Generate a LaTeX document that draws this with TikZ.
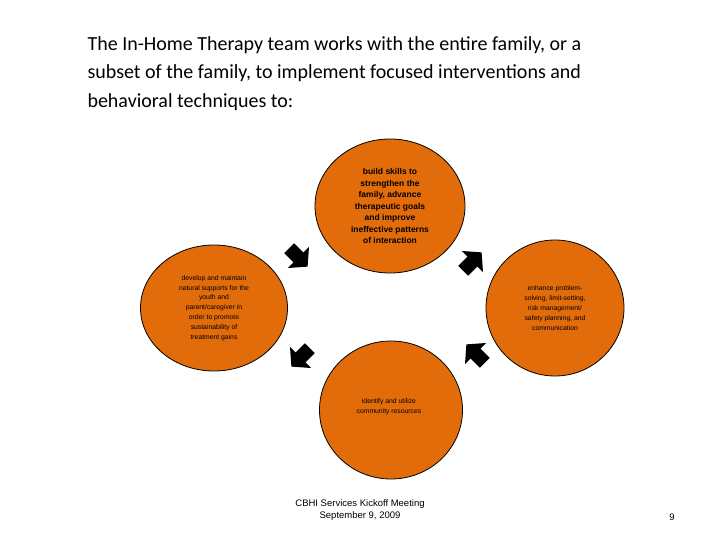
\documentclass[tikz,border=0pt]{standalone}
\usepackage{fontspec}
\setmainfont{Carlito}
\newfontfamily\arialf{Liberation Sans}
\usetikzlibrary{shapes.geometric}
\begin{document}
\begin{tikzpicture}[x=1pt,y=-1pt,
  blob/.style={ellipse,draw=black,line width=0.8pt,fill={rgb,255:red,226;green,108;blue,10},align=center,inner sep=0pt},
  bigtxt/.style={font=\arialf\fontsize{8.5}{11.5}\selectfont\bfseries},
  smtxt/.style={font=\arialf\fontsize{6.8}{9.8}\selectfont},
  barrow/.style={fill=black}]
\useasboundingbox (0,0) rectangle (720,540);
\node[anchor=north west,align=left,font=\fontsize{20}{28.5}\selectfont] (title) at (84,33)
 {The In-Home Therapy team works with the entire family, or a\\subset of the family, to implement focused interventions and\\behavioral techniques to:};
\node[blob,bigtxt,minimum width=150,minimum height=134] (top) at (390,206)
 {build skills to\\strengthen the\\family, advance\\therapeutic goals\\and improve\\ineffective patterns\\of interaction};
\node[blob,smtxt,minimum width=147,minimum height=126] (left) at (214,308)
 {develop and maintain\\natural supports for the\\youth and\\parent/caregiver in\\order to promote\\sustainability of\\treatment gains};
\node[blob,smtxt,minimum width=138,minimum height=136] (right) at (555,308)
 {enhance problem-\\solving, limit-setting,\\risk management/\\safety planning, and\\communication};
\node[blob,minimum width=143,minimum height=138] (bottom) at (391,410) {};
\node[smtxt,align=center] (btxt) at (389,407) {identify and utilize\\community resources};
\foreach \p/\r in {{(297,256)}/-45,{(471,263)}/45,{(477,355)}/135,{(302,356)}/-135}{
  \fill[barrow,shift={\p},rotate=\r] (-11,-7) -- (2,-7) -- (2,-15) -- (15,0) -- (2,15) -- (2,7) -- (-11,7) -- cycle;
}
\node[align=center,font=\arialf\fontsize{9.5}{12}\selectfont] (foot) at (360,510) {CBHI Services Kickoff Meeting\\September 9, 2009};
\node[font=\arialf\fontsize{9.5}{12}\selectfont] (num) at (672,517) {9};
\end{tikzpicture}
\end{document}
